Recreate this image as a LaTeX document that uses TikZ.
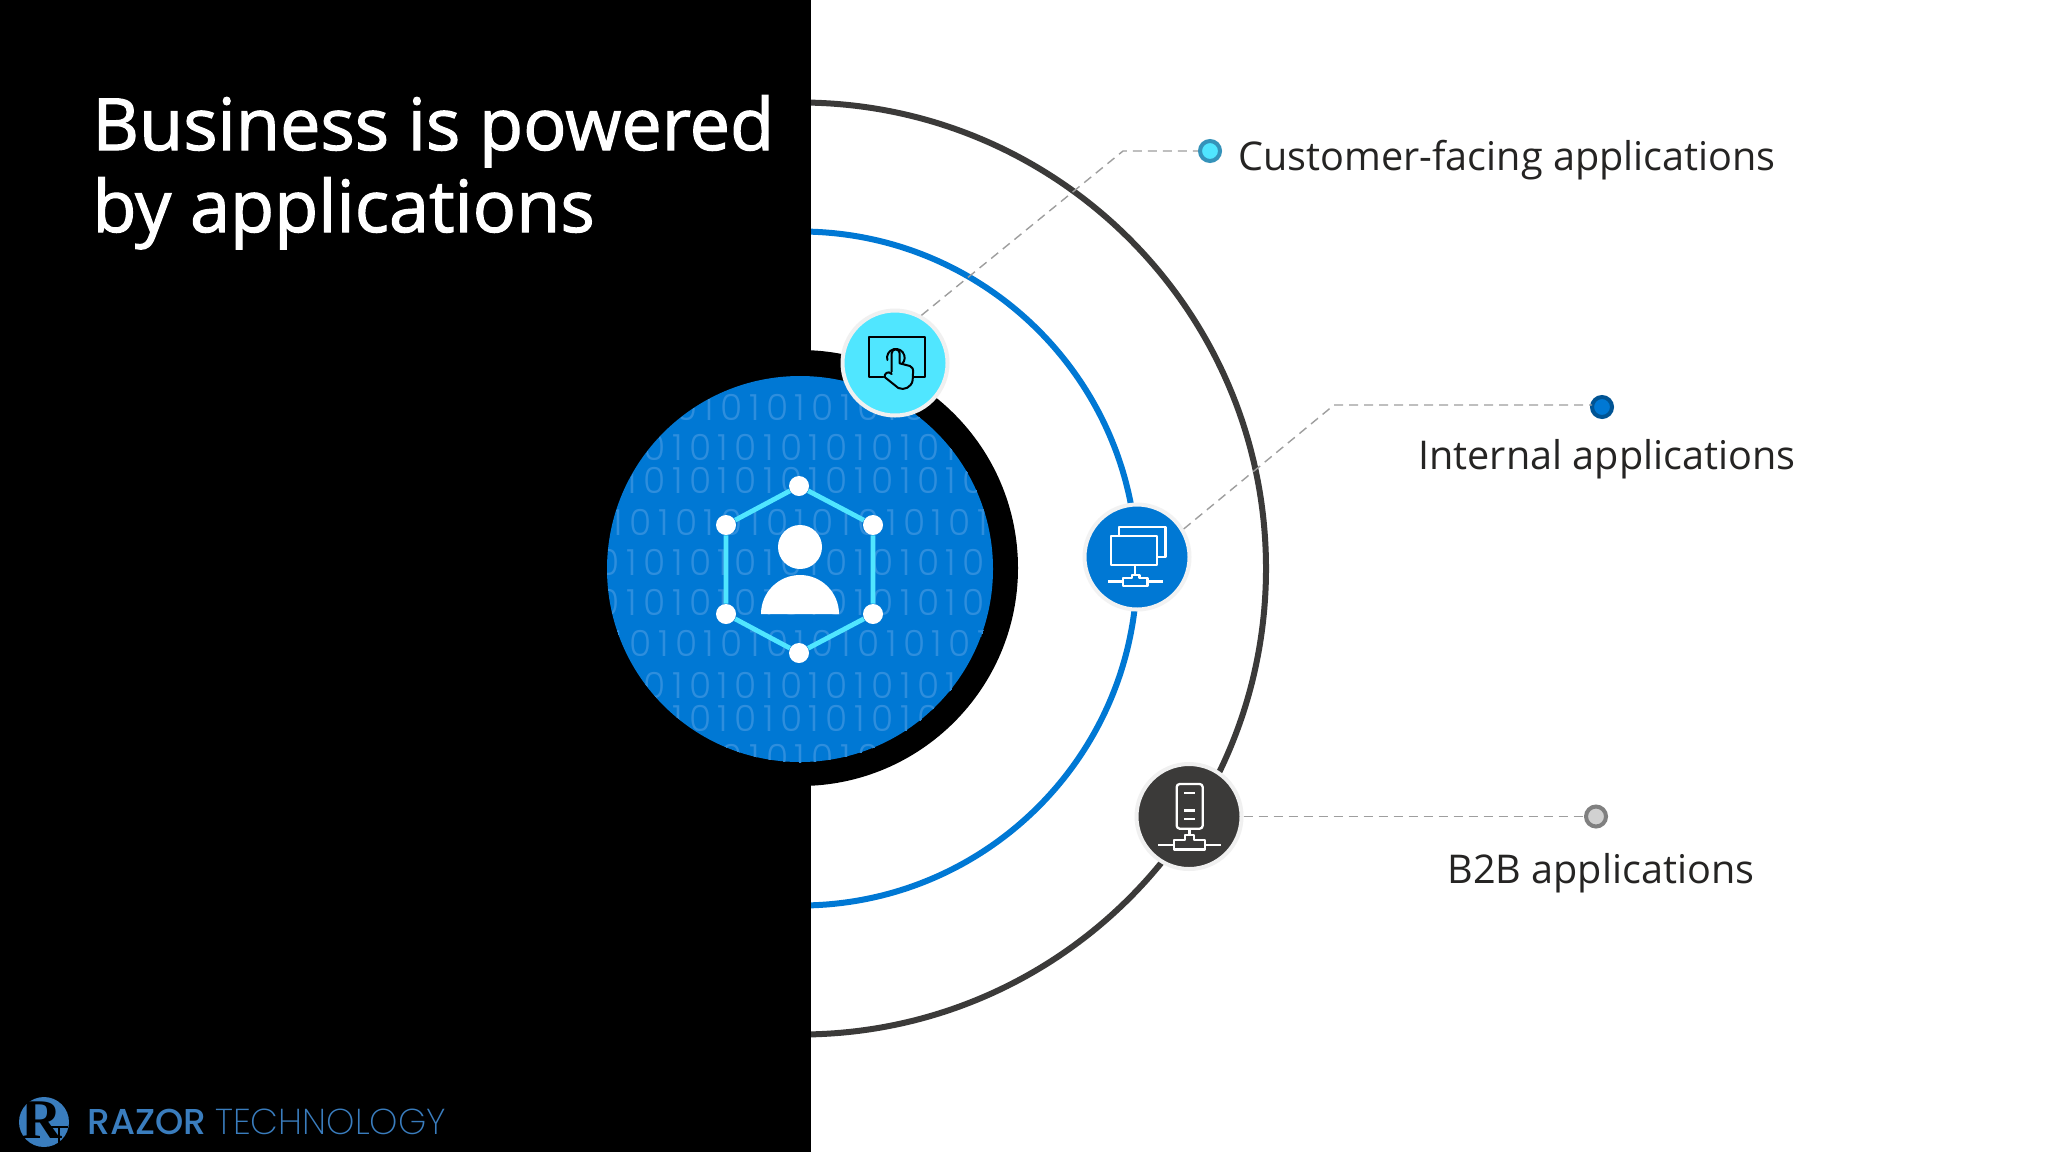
\documentclass[tikz,border=0pt]{standalone}
\usepackage{fontspec}
\setmainfont{Open Sans}
\newfontfamily\titlefont[FakeBold=1.6]{Open Sans}
\newfontfamily\popfont{Poppins Light}
\newfontfamily\popmed{Poppins Medium}
\newfontfamily\poplight{Poppins ExtraLight}
\newfontfamily\serfont{Liberation Serif}
\definecolor{azure}{HTML}{0078D4}
\definecolor{cyanlight}{HTML}{50E6FF}
\definecolor{darkring}{HTML}{3B3A39}
\definecolor{bitcol}{HTML}{2E8EDD}
\definecolor{logoblue}{HTML}{3A7DBE}
\definecolor{labelcol}{HTML}{252423}
\newcommand{\dg}[1]{\makebox[11.4pt][c]{#1}}
\newcommand{\bitrow}{\dg1\dg0\dg1\dg0\dg1\dg0\dg1\dg0\dg1\dg0\dg1\dg0\dg1\dg0\dg1\dg0\dg1\dg0}
\tikzset{
  iconcircle/.style={circle,minimum size=52.5pt,inner sep=0pt,line width=2pt,draw=#1},
  hexdot/.style={circle,fill=white,minimum size=10pt,inner sep=0pt},
  leader/.style={draw=black!38,line width=0.7pt,dash pattern=on 4.5pt off 3pt},
  label/.style={anchor=base west,inner sep=0pt,text=labelcol,font=\fontsize{19.8pt}{24pt}\selectfont},
  titlet/.style={anchor=base west,inner sep=0pt,text=white,font=\titlefont\fontsize{36pt}{40pt}\selectfont},
  bits/.style={anchor=west,inner sep=0pt,text=bitcol,font=\popfont\fontsize{18pt}{20pt}\selectfont},
  iconw/.style={draw=white,line width=1.15pt,line join=round},
  iconk/.style={draw=black,line width=1pt,line join=round,line cap=round},
  enddot/.style={circle,inner sep=0pt,minimum size=#1,line width=2pt}
}
\begin{document}
\begin{tikzpicture}[x=0.5pt,y=-0.5pt]
\useasboundingbox (0,0) rectangle (2048,1152);
\fill[white] (0,0) rectangle (2048,1152);
% outer rings
\begin{scope}
  \clip (811,0) rectangle (2048,1152);
  \fill[black] (800,568) circle[radius=109pt];
  \draw[azure,line width=3pt] (800,568.5) circle[radius=168.5pt];
  \draw[darkring,line width=3pt] (800,568.5) circle[radius=233pt];
\end{scope}
\fill[black] (0,0) rectangle (811,1152);
% central disc
\fill[azure] (800,569) circle[radius=96.5pt];
\begin{scope}
  \clip (800,569) circle[radius=96.5pt];
  \node[bits] (r1) at (606,407) {\bitrow};
  \node[bits] (r2) at (574.4,447) {\bitrow};
  \node[bits] (r3) at (574.4,480) {\bitrow};
  \node[bits] (r4) at (606,522) {\bitrow};
  \node[bits] (r5) at (574.4,562) {\bitrow};
  \node[bits] (r6) at (574.4,602) {\bitrow};
  \node[bits] (r7) at (606,643) {\bitrow};
  \node[bits] (r8) at (574.4,685) {\bitrow};
  \node[bits] (r9) at (574.4,718) {\bitrow};
  \node[bits] (r10) at (606,757) {\bitrow};
\end{scope}
% hexagon
\node[hexdot] (h1) at (799,486) {};
\node[hexdot] (h2) at (873,525) {};
\node[hexdot] (h3) at (873,614) {};
\node[hexdot] (h4) at (799,653) {};
\node[hexdot] (h5) at (726,614) {};
\node[hexdot] (h6) at (726,525) {};
\draw[cyanlight,line width=2.4pt] (h1)--(h2) (h2)--(h3) (h3)--(h4) (h4)--(h5) (h5)--(h6) (h6)--(h1);
% person
\fill[white] (800,547) circle[radius=11pt];
\fill[white] (761,614) arc[start angle=180,end angle=0,radius=19.5pt] -- cycle;
% icon circles
\node[iconcircle=black!6,fill=cyanlight] (touch) at (895,363) {};
\node[iconcircle=black!5,fill=azure] (net) at (1137,557) {};
\node[iconcircle=black!6,fill=darkring] (server) at (1189,816.5) {};
% touch icon
\begin{scope}[shift={(830,300)},x=0.16667pt,y=-0.16667pt]
  \draw[iconk] (160,230) -- (117,230) -- (117,110) -- (286,110) -- (286,230) -- (250,230);
  \draw[iconk] (172,180) arc[start angle=195,end angle=-60,radius=4.4pt];
  \draw[iconk,fill=cyanlight] (185,215) -- (185,160) arc[start angle=180,end angle=0,radius=2pt] -- (209,190) -- (240,198)
     .. controls (248,200) and (250,208) .. (249,220) -- (248,240)
     .. controls (245,262) and (222,272) .. (205,264) -- (165,232)
     .. controls (160,222) and (175,210) .. (185,222);
\end{scope}
% network icon
\begin{scope}[shift={(1070,490)},x=0.16667pt,y=-0.16667pt]
  \draw[iconw] (147,138) -- (147,112) -- (286,112) -- (286,202) -- (260,202);
  \draw[iconw] (122,138) rectangle (260,226);
  \draw[iconw] (195,226) -- (195,255);
  \draw[iconw] (158,287) -- (158,265) -- (185,265) -- (185,255) -- (208,255) -- (208,265) -- (232,265) -- (232,287) -- cycle;
  \draw[iconw] (115,274) -- (158,274) (232,274) -- (280,274);
\end{scope}
% server icon
\begin{scope}[shift={(1120,750)},x=0.16667pt,y=-0.16667pt]
  \draw[iconw,rounded corners=1.5pt] (170,102) rectangle (248,236);
  \draw[iconw] (192,128) -- (225,128) (192,181) -- (225,181) (192,207) -- (225,207);
  \draw[iconw] (208,236) -- (208,255);
  \draw[iconw] (162,298) -- (162,270) -- (195,270) -- (195,255) -- (222,255) -- (222,270) -- (255,270) -- (255,298) -- cycle;
  \draw[iconw] (115,284) -- (162,284) (255,284) -- (302,284);
\end{scope}
% end dots
\node[enddot=10pt,draw=cyan!45!teal,fill=cyanlight] (d1) at (1210,151) {};
\node[enddot=10pt,draw=azure!70!black,fill=azure] (d2) at (1602,407) {};
\node[enddot=10pt,draw=black!50,fill=black!18] (d3) at (1596,816.5) {};
% leaders
\coordinate (b1) at (1123,151);
\coordinate (b2) at (1334,405);
\coordinate (e2) at (1592,405);
\draw[leader] (touch.61) -- (b1) -- (d1);
\draw[leader] (net.31) -- (b2) -- (e2);
\draw[leader] (server) -- (d3);
% title
\node[titlet] (t1) at (92,150) {Business is powered};
\node[titlet] (t2) at (92,232) {by applications};
% labels
\node[label] (l1) at (1238,170) {Customer-facing applications};
\node[label] (l2) at (1418,469) {Internal applications};
\node[label] (l3) at (1447,883) {B2B applications};
% logo
\fill[logoblue] (44,1122) circle[radius=12.5pt];
\node[text=black,inner sep=0pt,font=\serfont\bfseries\fontsize{28pt}{30pt}\selectfont] (lr) at (42,1120) {R};
\draw[black,line width=1.2pt] (49,1127) -- (68,1127) (59,1127) -- (59,1146);
\node[text=logoblue,anchor=base west,inner sep=0pt,font=\popmed\fontsize{18pt}{20pt}\selectfont] (razor) at (87,1134) {RAZOR};
\node[text=logoblue,anchor=base west,inner sep=0pt,font=\poplight\fontsize{18pt}{20pt}\selectfont] (tech) at (215,1134) {TECHNOLOGY};
\end{tikzpicture}
\end{document}
